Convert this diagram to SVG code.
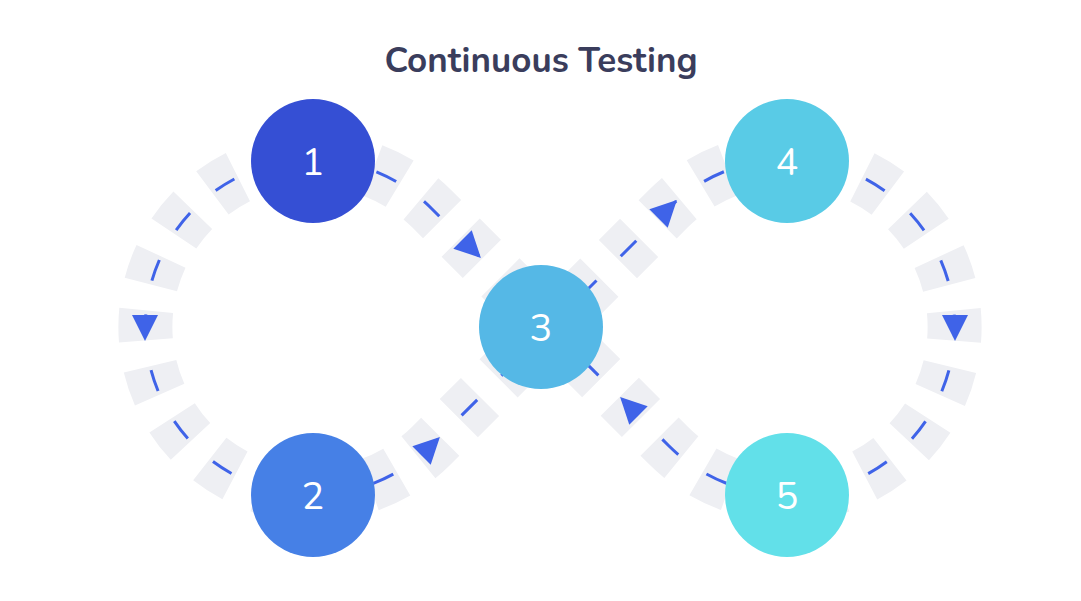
<svg xmlns="http://www.w3.org/2000/svg" width="1081" height="601" viewBox="0 0 1081 601">
<style>
.band{fill:none;stroke:#eeeff3;stroke-width:54;stroke-dasharray:30 26.25;stroke-dashoffset:15}
.line{fill:none;stroke:#3f63e8;stroke-width:3;stroke-dasharray:22 34.25;stroke-dashoffset:11}
.arr{fill:#3f63e8}
.lbl{font-family:"Nunito","Noto Sans",sans-serif;font-size:38px;fill:#fff;text-anchor:middle}
.title{font-family:"Nunito","Noto Sans",sans-serif;font-size:35px;font-weight:bold;fill:#3a3d5c;text-anchor:middle}
</style>
<defs><polygon id="tri" points="14,0 -12,-13 -12,13"/></defs>
<rect width="1081" height="601" fill="#fff"/>
<text class="title" x="541" y="72">Continuous Testing</text>
<g id="connectors">
<path class="band" d="M431.5 208.5 L668.5 445.5 A167.6 167.6 0 1 0 668.5 208.5 L431.5 445.5 A167.6 167.6 0 1 1 431.5 208.5 Z"/>
<path class="line" d="M431.5 208.5 L668.5 445.5 A167.6 167.6 0 1 0 668.5 208.5 L431.5 445.5 A167.6 167.6 0 1 1 431.5 208.5 Z"/>
<use href="#tri" class="arr" transform="translate(471,248) rotate(45)"/>
<use href="#tri" class="arr" transform="translate(630,407) rotate(225)"/>
<use href="#tri" class="arr" transform="translate(667,210) rotate(-45)"/>
<use href="#tri" class="arr" transform="translate(430,447) rotate(-45)"/>
<use href="#tri" class="arr" transform="translate(145,327) rotate(90)"/>
<use href="#tri" class="arr" transform="translate(955,327) rotate(90)"/>
</g>
<g id="n1"><circle cx="313" cy="161" r="62" fill="#354fd4"/><text class="lbl" x="313" y="175">1</text></g>
<g id="n2"><circle cx="313" cy="495" r="62" fill="#4680e6"/><text class="lbl" x="313" y="509">2</text></g>
<g id="n3"><circle cx="541" cy="327" r="62" fill="#55b8e6"/><text class="lbl" x="541" y="341">3</text></g>
<g id="n4"><circle cx="787" cy="161" r="62" fill="#59cbe6"/><text class="lbl" x="787" y="175">4</text></g>
<g id="n5"><circle cx="787" cy="495" r="62" fill="#62e0e9"/><text class="lbl" x="787" y="509">5</text></g>
</svg>
